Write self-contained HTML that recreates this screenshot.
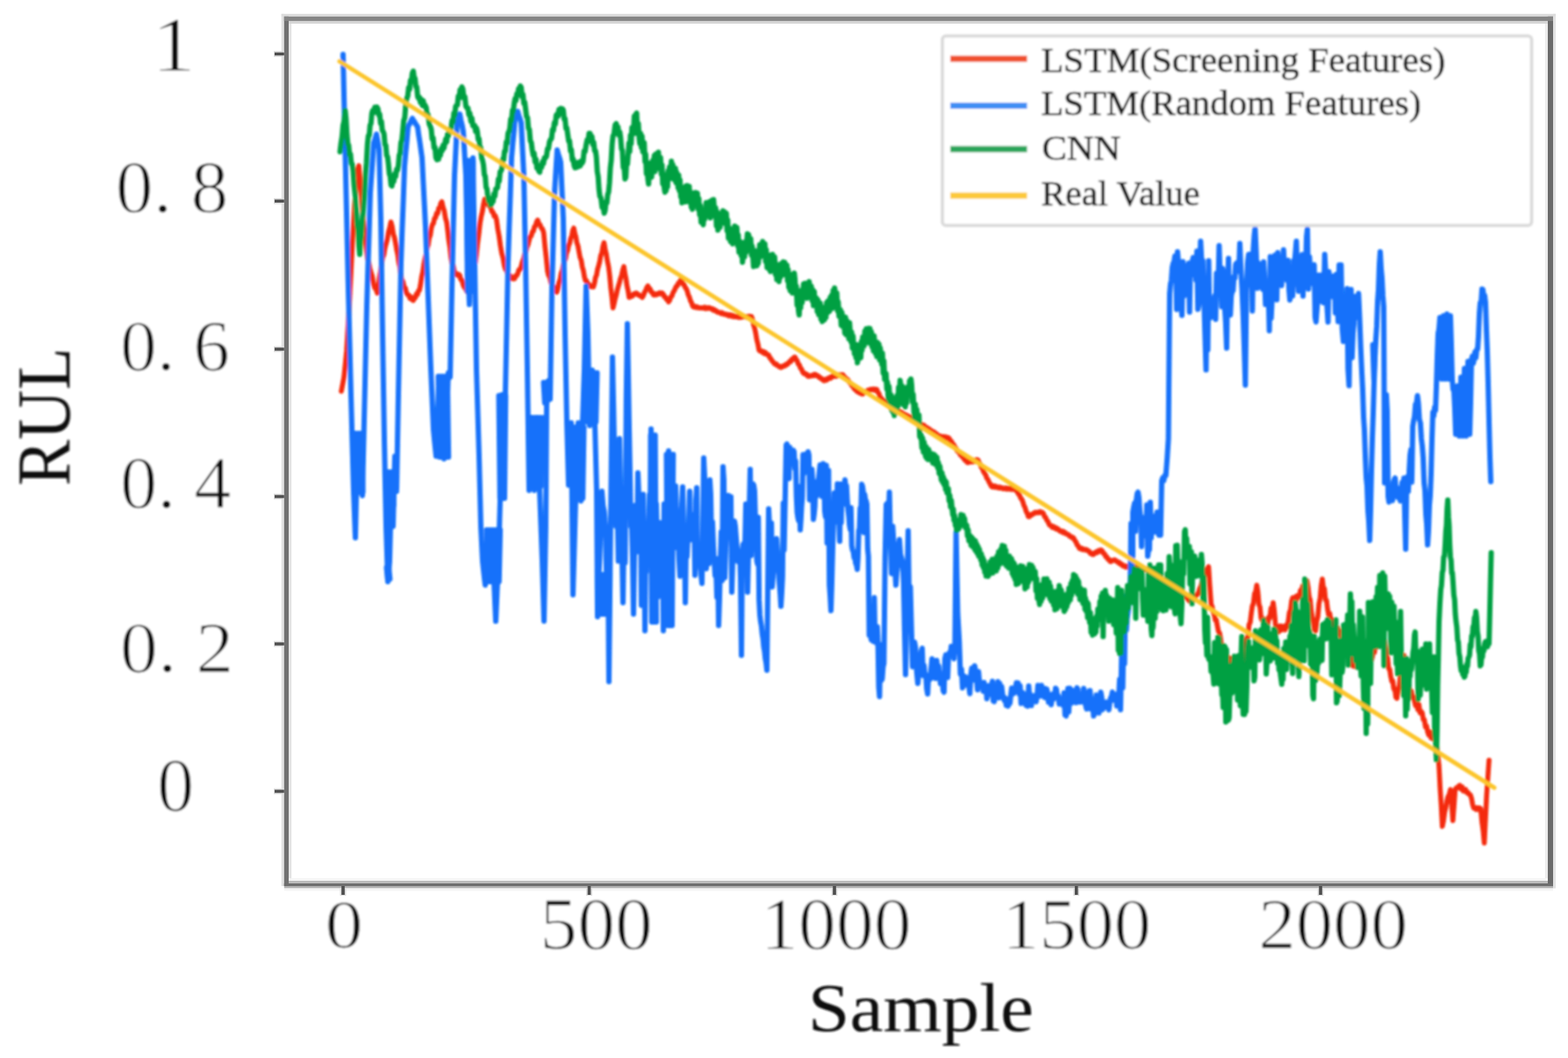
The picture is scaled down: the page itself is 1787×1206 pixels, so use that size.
<!DOCTYPE html>
<html><head><meta charset="utf-8"><title>RUL prediction chart</title>
<style>html,body{margin:0;padding:0;background:#fff;width:1787px;height:1206px;overflow:hidden}svg{display:block}</style>
</head><body>
<svg width="1787" height="1206" viewBox="0 0 1787 1206"><defs><filter id="bl" x="-5%" y="-5%" width="110%" height="110%"><feGaussianBlur stdDeviation="0.9"/></filter></defs><rect width="100%" height="100%" fill="#fff"/><g filter="url(#bl)"><g fill="none" stroke-linejoin="round" stroke-linecap="round"><path d="M389.0 446.0L390.5 437.9L392.0 430.0L393.5 415.4L395.0 400.0L396.5 374.4L398.0 350.0L399.5 321.1L401.0 290.0L402.5 261.3L404.0 235.0L405.5 215.6L407.0 195.0L409.0 189.0L411.0 212.0L413.0 240.0L414.5 254.5L416.0 270.0L417.5 283.9L419.0 295.0L420.3 299.6L421.7 306.4L423.0 311.0L424.3 315.1L425.7 323.3L427.0 328.0L428.5 329.6L430.0 334.0L431.2 326.5L432.5 315.8L433.8 309.1L435.0 300.0L436.2 293.3L437.5 290.5L438.8 282.4L440.0 278.0L441.4 273.1L442.8 264.3L444.1 259.8L445.5 253.0L446.9 257.9L448.2 266.6L449.6 270.9L451.0 278.0L452.2 285.3L453.3 290.2L454.5 299.5L455.7 304.0L456.8 313.6L458.0 319.0L459.3 321.1L460.6 327.3L462.0 328.3L463.3 334.0L464.6 336.0L465.9 336.3L467.2 340.1L468.4 338.4L469.7 341.8L471.0 342.5L472.2 340.0L473.3 339.4L474.5 335.2L475.7 335.8L476.8 331.7L478.0 331.0L479.3 324.4L480.6 315.2L481.9 309.7L483.2 300.5L484.5 294.0L485.7 289.7L486.9 282.0L488.1 279.2L489.2 271.0L490.4 268.4L491.6 260.0L492.8 256.0L494.0 254.7L495.2 249.0L496.4 248.0L497.6 243.0L498.8 243.1L500.0 237.2L501.2 236.9L502.4 231.6L503.6 230.0L505.0 236.5L506.3 240.1L507.6 248.4L509.0 253.0L510.2 262.5L511.5 274.1L512.8 282.3L514.0 294.0L515.2 300.2L516.5 302.7L517.8 309.3L519.0 312.6L520.2 312.0L521.5 313.9L522.8 312.8L524.0 314.0L525.2 318.7L526.5 319.3L527.8 324.7L529.0 327.5L530.3 328.2L531.7 331.7L533.0 333.0L534.2 328.5L535.5 327.4L536.8 321.8L538.0 320.0L539.2 314.1L540.5 304.0L541.8 299.1L543.0 290.0L544.3 277.5L545.7 267.2L547.0 255.0L548.4 246.8L549.7 241.5L551.0 233.3L552.4 227.0L553.8 229.9L555.2 229.8L556.6 233.7L558.0 235.0L559.3 237.0L560.6 241.5L561.9 241.7L563.2 246.6L564.5 246.0L565.8 250.0L567.3 260.9L568.8 269.0L570.3 280.0L571.8 288.7L573.3 294.1L574.8 303.0L576.1 307.1L577.4 307.9L578.7 313.2L580.0 315.0L581.3 314.2L582.6 317.5L583.9 316.3L585.2 318.0L586.4 317.8L587.6 314.3L588.8 314.3L590.0 312.0L591.4 307.4L592.8 307.1L594.2 303.0L595.5 297.8L596.7 295.2L598.0 289.6L599.2 287.6L600.5 281.8L601.7 279.3L603.0 274.0L604.2 269.9L605.5 268.8L606.7 264.2L607.9 263.5L609.1 258.4L610.3 257.6L611.6 252.6L612.8 251.0L614.2 255.1L615.5 256.1L616.9 259.9L618.2 261.0L619.6 265.0L621.1 281.2L622.5 293.6L624.0 309.0L625.2 314.0L626.5 315.9L627.8 321.8L629.0 325.0L630.4 326.1L631.8 329.8L633.1 330.1L634.5 333.0L635.8 329.1L637.0 322.0L638.3 318.7L639.6 311.4L640.9 308.2L642.1 301.5L643.4 297.5L644.6 294.6L645.7 288.3L646.9 285.7L648.1 279.5L649.2 277.4L650.4 271.8L651.6 269.3L652.7 262.9L653.9 260.0L655.1 266.0L656.3 270.0L657.5 277.1L658.7 280.2L659.9 287.0L661.1 293.5L662.4 296.6L663.6 304.2L664.8 308.1L666.1 315.7L667.3 320.0L668.5 320.0L669.6 324.0L670.8 323.8L672.0 326.0L673.4 326.9L674.9 325.6L676.3 327.0L677.5 322.9L678.7 316.0L679.8 314.0L681.0 307.1L682.2 303.0L683.4 298.5L684.7 291.1L685.9 288.4L687.2 280.5L688.4 276.6L689.7 284.3L691.0 289.7L692.3 297.9L693.6 304.0L694.9 314.7L696.1 328.1L697.4 338.7L698.6 351.0L699.8 346.5L701.1 340.5L702.3 336.5L703.6 330.2L704.8 326.0L706.0 322.0L707.3 316.9L708.5 313.7L709.8 307.6L711.0 304.0L712.2 311.9L713.4 317.5L714.6 325.9L715.8 331.1L717.0 339.0L718.3 338.6L719.6 336.6L720.9 337.3L722.1 335.0L723.4 335.4L724.7 334.0L725.9 334.4L727.1 336.2L728.4 336.1L729.6 337.6L730.8 337.5L732.0 339.0L733.3 336.9L734.6 333.0L735.8 331.5L737.1 327.8L738.4 326.0L739.6 328.7L740.9 329.1L742.1 332.8L743.4 333.2L744.6 336.0L745.8 336.4L747.1 335.2L748.3 336.0L749.5 334.6L750.8 335.2L752.0 333.8L753.3 334.9L754.5 334.0L755.8 335.1L757.0 338.2L758.2 338.3L759.5 341.2L760.8 341.9L762.0 344.0L763.2 342.3L764.5 338.4L765.8 337.3L767.0 333.5L768.2 331.9L769.5 329.0L770.7 326.4L772.0 325.8L773.2 322.6L774.5 321.8L775.7 319.0L777.0 320.1L778.2 323.8L779.5 324.2L780.7 327.3L782.0 329.0L783.2 331.7L784.5 336.5L785.7 338.7L786.9 342.8L788.2 345.2L789.4 349.0L790.6 349.9L791.9 349.1L793.1 350.6L794.3 349.6L795.6 350.9L796.8 351.0L798.0 350.7L799.3 351.3L800.5 350.7L801.8 351.3L803.0 350.1L804.3 351.8L805.5 350.7L806.8 351.6L808.0 350.5L809.3 351.0L810.5 352.1L811.7 351.8L812.9 353.6L814.1 352.9L815.4 354.6L816.6 354.4L817.8 355.9L819.0 356.0L820.2 356.0L821.5 357.4L822.8 356.4L824.0 358.0L825.2 357.6L826.5 358.6L827.8 358.1L829.0 359.0L830.2 359.9L831.5 358.7L832.8 360.3L834.0 359.2L835.2 360.9L836.5 360.0L837.8 361.3L839.0 361.0L840.2 360.4L841.5 361.7L842.8 360.5L844.0 361.7L845.2 360.4L846.5 361.4L847.8 360.4L849.0 361.0L850.2 361.7L851.5 360.7L852.8 361.5L854.0 360.5L855.2 361.8L856.5 361.0L857.7 364.5L858.8 370.2L860.0 374.0L861.2 379.4L862.5 387.3L863.8 392.3L865.0 399.0L866.2 400.2L867.5 399.9L868.8 401.7L870.0 400.8L871.2 403.0L872.5 402.0L873.8 404.1L875.0 404.0L876.2 404.9L877.3 408.0L878.5 408.7L879.7 411.3L880.8 412.1L882.0 414.0L883.3 415.2L884.7 414.9L886.0 416.8L887.3 417.0L888.7 418.5L890.0 419.0L891.2 417.5L892.4 418.0L893.6 416.6L894.9 416.9L896.1 415.1L897.3 415.5L898.5 414.0L899.8 412.1L901.0 412.5L902.2 409.6L903.5 410.0L904.8 407.4L906.0 407.0L907.2 409.7L908.5 411.1L909.7 414.9L911.0 416.0L912.2 419.5L913.5 420.8L914.7 424.0L915.9 425.7L917.1 425.4L918.4 427.0L919.6 426.7L920.8 429.0L922.0 429.0L923.3 428.2L924.5 428.7L925.8 427.6L927.1 428.3L928.3 426.6L929.6 427.0L930.9 428.4L932.1 428.2L933.4 430.1L934.6 430.0L935.9 431.9L937.1 431.9L938.4 433.7L939.6 434.0L940.8 432.5L942.1 433.3L943.3 431.4L944.5 431.9L945.8 430.2L947.0 431.0L948.3 428.9L949.5 429.0L950.8 429.3L952.0 427.9L953.2 428.9L954.5 427.2L955.8 428.1L957.0 427.2L958.2 428.0L959.5 427.0L960.8 427.3L962.0 429.9L963.2 430.0L964.5 432.4L965.8 432.4L967.0 434.0L968.2 436.1L969.5 436.9L970.7 439.6L971.9 440.2L973.2 442.7L974.4 444.0L975.7 444.1L976.9 446.5L978.2 446.0L979.5 448.0L980.7 447.6L982.0 449.0L983.2 449.2L984.5 447.1L985.7 447.6L986.9 446.1L988.1 446.2L989.3 444.7L990.6 445.1L991.8 444.0L993.0 443.6L994.3 444.5L995.5 443.5L996.8 444.8L998.0 443.6L999.3 444.0L1000.5 447.4L1001.6 448.4L1002.8 452.1L1004.0 454.0L1005.2 454.7L1006.5 457.3L1007.8 457.0L1009.0 459.6L1010.2 459.7L1011.5 462.2L1012.8 461.9L1014.0 464.0L1015.2 465.1L1016.5 464.5L1017.8 466.7L1019.0 465.9L1020.2 467.5L1021.5 467.3L1022.8 469.1L1024.0 469.0L1025.2 468.9L1026.5 471.1L1027.8 470.1L1029.0 471.9L1030.2 471.7L1031.5 473.2L1032.8 473.0L1034.0 474.0L1035.2 475.6L1036.5 474.9L1037.8 477.5L1039.0 477.1L1040.2 479.2L1041.5 478.8L1042.8 480.7L1044.0 481.0L1045.2 480.9L1046.5 482.6L1047.8 482.5L1049.0 484.3L1050.2 483.7L1051.5 485.2L1052.8 484.7L1054.0 486.0L1055.2 487.5L1056.4 487.3L1057.6 488.9L1058.8 488.7L1060.0 490.0L1061.2 491.5L1062.5 491.3L1063.8 493.3L1065.0 492.6L1066.2 494.9L1067.5 494.6L1068.8 496.5L1070.0 497.0L1071.2 496.9L1072.4 498.3L1073.6 497.6L1074.8 499.0L1076.0 497.7L1077.2 499.1L1078.4 498.2L1079.6 499.9L1080.8 498.9L1082.0 500.0L1083.2 502.6L1084.5 503.3L1085.8 506.3L1087.0 506.8L1088.2 510.2L1089.5 510.8L1090.8 513.9L1092.0 515.0L1093.2 515.6L1094.5 518.7L1095.8 518.9L1097.0 521.3L1098.2 521.9L1099.5 524.5L1100.8 524.8L1102.0 527.0L1103.2 527.5L1104.3 525.9L1105.5 526.7L1106.6 525.4L1107.8 526.5L1108.9 525.3L1110.1 526.2L1111.2 524.5L1112.4 525.3L1113.5 523.9L1114.7 524.5L1115.9 527.4L1117.1 529.0L1118.3 532.7L1119.6 533.9L1120.8 537.6L1122.0 539.5L1123.3 541.2L1124.5 544.9L1125.8 546.3L1127.1 549.5L1128.3 551.3L1129.6 554.0L1130.8 555.0L1132.1 553.8L1133.3 555.4L1134.6 554.3L1135.8 555.7L1137.0 555.1L1138.3 556.3L1139.5 555.2L1140.8 556.5L1142.0 555.9L1143.3 557.2L1144.5 557.0L1145.8 556.2L1147.0 557.5L1148.2 556.5L1149.5 557.5L1150.8 556.4L1152.0 557.8L1153.2 556.5L1154.5 557.8L1155.8 556.7L1157.0 557.0L1158.2 559.4L1159.5 560.7L1160.7 563.3L1161.9 564.2L1163.2 567.7L1164.4 569.0L1165.7 571.9L1166.9 576.1L1168.2 578.5L1169.5 583.1L1170.7 584.9L1172.0 589.0L1173.2 589.0L1174.5 586.9L1175.7 587.2L1176.9 585.6L1178.1 585.8L1179.4 584.1L1180.6 584.0L1181.8 584.6L1183.1 583.6L1184.3 584.4L1185.5 583.2L1186.8 584.3L1188.0 584.0L1189.2 585.4L1190.5 589.1L1191.7 589.6L1193.0 593.1L1194.2 594.1L1195.5 597.5L1196.7 599.0L1198.0 599.0L1199.2 601.1L1200.5 600.2L1201.7 602.0L1203.0 601.3L1204.2 603.3L1205.5 602.7L1206.7 604.0L1207.9 605.4L1209.2 605.0L1210.4 606.6L1211.7 605.8L1212.9 607.7L1214.1 607.2L1215.4 608.9L1216.6 609.0L1217.8 609.4L1219.1 611.3L1220.3 611.2L1221.5 612.9L1222.8 612.5L1224.0 614.0L1225.2 616.7L1226.4 617.8L1227.6 621.5L1228.8 622.0L1230.0 625.0L1231.3 625.6L1232.6 624.8L1233.9 626.5L1235.1 625.8L1236.4 626.9L1237.7 626.3L1239.0 627.0L1240.2 628.3L1241.4 628.4L1242.6 630.9L1243.8 630.5L1245.0 632.0L1246.2 632.2L1247.5 630.0L1248.8 630.5L1250.0 628.7L1251.2 629.5L1252.5 627.4L1253.8 628.3L1255.0 627.0L1256.2 627.9L1257.5 630.7L1258.8 631.1L1260.0 634.4L1261.2 634.3L1262.5 637.3L1263.8 637.6L1265.0 640.0L1266.2 640.1L1267.5 638.7L1268.8 638.8L1270.0 638.0L1271.2 638.5L1272.4 640.0L1273.6 640.0L1274.8 641.8L1276.0 641.3L1277.2 643.4L1278.4 643.1L1279.6 645.1L1280.8 644.7L1282.0 646.0L1283.2 646.6L1284.4 645.3L1285.6 646.5L1286.8 645.6L1288.0 646.8L1289.2 645.3L1290.4 646.5L1291.6 645.5L1292.8 646.6L1294.0 646.0L1295.2 645.7L1296.5 647.0L1297.7 646.7L1298.9 647.6L1300.2 646.8L1301.4 648.2L1302.6 647.6L1303.8 648.9L1305.1 648.4L1306.3 649.5L1307.5 648.9L1308.8 650.1L1310.0 650.0L1311.2 650.9L1312.4 652.7L1313.6 653.2L1314.8 655.4L1316.0 655.7L1317.2 657.5L1318.4 657.8L1319.6 660.1L1320.8 660.1L1322.0 662.0L1323.2 663.0L1324.3 662.8L1325.5 664.5L1326.7 664.4L1327.8 666.2L1329.0 665.6L1330.2 667.0L1331.3 666.8L1332.5 668.4L1333.7 668.0L1334.8 669.8L1336.0 670.0L1337.2 670.3L1338.3 671.6L1339.5 671.3L1340.7 673.1L1341.8 672.6L1343.0 674.6L1344.2 673.8L1345.3 675.8L1346.5 675.6L1347.7 677.1L1348.8 676.6L1350.0 678.0L1351.4 680.4L1352.8 681.0L1354.1 683.6L1355.5 685.0L1356.7 683.4L1357.9 684.0L1359.1 681.5L1360.2 681.5L1361.4 680.0L1362.6 679.7L1363.8 678.1L1365.0 677.5L1366.2 674.5L1367.4 670.6L1368.7 668.3L1369.9 663.6L1371.1 661.5L1372.3 656.9L1373.6 655.1L1374.8 650.5L1376.0 648.0L1377.4 646.0L1378.8 668.3L1380.3 689.0L1381.5 691.7L1382.6 697.6L1383.8 699.9L1385.0 706.8L1386.1 706.3L1387.3 713.0L1388.6 719.6L1390.0 721.7L1391.3 729.0L1392.5 738.8L1393.7 740.0L1394.8 750.0L1396.0 754.0L1397.3 751.5L1398.6 756.3L1399.8 749.0L1401.1 754.1L1402.4 752.0L1403.6 750.7L1404.9 759.3L1406.1 754.5L1407.4 762.7L1408.6 762.0L1409.8 757.1L1411.1 761.9L1412.3 756.2L1413.6 759.3L1414.8 752.9L1416.1 757.7L1417.3 754.0L1418.5 744.3L1419.8 740.1L1421.0 727.4L1422.3 725.8L1423.5 711.9L1424.8 709.6L1426.0 699.5L1427.3 690.4L1428.5 688.1L1429.8 676.8L1431.0 674.8L1432.3 667.0L1433.5 673.9L1434.8 689.1L1436.0 692.0L1437.2 704.5L1438.5 707.2L1439.7 705.1L1441.0 711.8L1442.2 706.5L1443.5 714.4L1444.7 712.0L1446.0 703.4L1447.2 704.5L1448.5 693.3L1449.7 695.3L1451.0 687.0L1452.2 695.5L1453.5 710.6L1454.7 719.0L1455.9 717.1L1457.2 720.3L1458.4 713.6L1459.6 718.5L1460.8 713.7L1462.1 717.5L1463.3 714.1L1464.5 718.0L1465.8 712.6L1467.0 714.0L1468.2 708.1L1469.5 697.9L1470.8 695.3L1472.0 685.0L1473.2 681.3L1474.5 684.6L1475.8 680.7L1477.0 685.6L1478.2 679.0L1479.5 680.0L1480.8 680.5L1482.0 673.1L1483.2 676.6L1484.5 668.1L1485.8 672.2L1487.0 663.8L1488.2 666.0L1489.5 662.0L1490.7 668.8L1492.0 680.4L1493.2 684.0L1494.5 697.5L1495.7 704.5L1496.9 708.1L1498.2 718.1L1499.4 719.0L1500.7 707.4L1501.9 703.0L1503.2 688.1L1504.5 682.2L1505.7 668.0L1507.0 660.0L1508.2 670.4L1509.4 670.9L1510.6 683.7L1511.8 684.3L1513.0 694.5L1514.3 701.6L1515.5 699.3L1516.8 707.9L1518.0 706.1L1519.3 712.0L1520.5 715.2L1521.8 711.9L1523.0 720.0L1524.3 715.4L1525.5 722.3L1526.8 719.6L1528.0 724.0L1529.3 729.5L1530.5 726.8L1531.8 734.4L1533.0 733.8L1534.3 739.0L1535.5 744.9L1536.8 744.3L1538.0 751.7L1539.2 749.1L1540.5 758.1L1541.7 759.0L1542.9 755.0L1544.2 759.9L1545.4 754.2L1546.6 757.2L1547.8 750.0L1549.1 755.1L1550.3 749.6L1551.5 752.4L1552.8 748.2L1554.0 749.0L1555.2 750.7L1556.5 745.2L1557.8 752.2L1559.0 745.4L1560.2 753.0L1561.5 746.1L1562.8 752.8L1564.0 749.0L1565.2 742.5L1566.4 743.8L1567.6 733.7L1568.8 737.5L1570.0 730.0L1571.3 722.5L1572.7 725.2L1574.0 719.0L1575.2 720.6L1576.5 731.3L1577.8 730.0L1579.0 739.0L1580.2 749.2L1581.4 749.8L1582.6 762.0L1583.8 762.9L1585.0 771.0L1586.2 776.6L1587.3 776.1L1588.5 785.5L1589.7 785.0L1590.8 794.8L1592.0 796.0L1593.3 786.5L1594.7 783.0L1596.0 769.5L1597.3 765.7L1598.7 753.0L1600.0 747.0L1601.2 757.7L1602.4 758.5L1603.6 771.2L1604.8 775.1L1606.0 784.0L1607.2 789.0L1608.4 787.6L1609.6 794.4L1610.8 794.4L1612.0 799.0L1613.3 804.3L1614.6 799.8L1615.8 808.9L1617.1 803.1L1618.4 812.7L1619.7 811.0L1620.9 812.6L1622.1 820.3L1623.3 820.4L1624.6 828.8L1625.8 827.5L1627.0 834.0L1628.3 837.9L1629.5 834.1L1630.8 841.1L1632.1 836.7L1633.3 842.3L1634.6 841.0L1636.3 844.3L1638.0 855.0L1640.0 873.0L1641.3 899.0L1642.5 917.5L1643.8 942.0L1645.1 935.7L1646.4 925.8L1647.7 920.9L1649.0 913.0L1650.3 907.9L1651.7 905.7L1653.0 900.0L1654.4 916.4L1655.8 935.5L1657.1 918.6L1658.4 900.0L1659.7 898.0L1661.1 898.2L1662.4 896.0L1663.7 895.3L1665.0 899.3L1666.4 897.0L1667.7 901.7L1669.0 901.0L1670.3 900.0L1671.7 903.6L1673.0 903.1L1674.4 905.6L1675.7 906.0L1677.0 909.8L1678.3 917.1L1679.6 921.0L1680.9 920.5L1682.3 922.7L1683.6 920.8L1684.9 922.7L1686.3 920.9L1687.6 922.0L1688.9 936.7L1690.3 946.8L1691.6 961.0L1692.9 934.5L1694.3 906.0L1695.7 885.6L1697.0 866.5" stroke="#f42a08" stroke-width="5.6"/><path d="M391.0 62.0L392.5 130.6L394.0 200.0L395.5 265.5L397.0 330.0L398.5 389.5L400.0 450.0L401.5 505.3L403.0 560.0L405.0 613.0L407.0 520.0L409.0 495.0L411.0 560.0L413.0 565.0L415.0 480.0L416.5 414.6L418.0 350.0L419.3 306.9L420.7 263.1L422.0 220.0L423.3 201.4L424.7 181.8L426.0 163.0L427.5 158.5L429.0 153.0L430.5 161.3L432.0 170.0L434.0 250.0L436.0 380.0L438.0 500.0L440.0 600.0L442.0 663.0L444.0 640.0L446.0 560.0L448.0 600.0L450.0 520.0L452.0 560.0L454.0 450.0L455.5 375.2L457.0 300.0L458.3 263.1L459.7 227.1L461.0 190.0L462.3 174.8L463.7 160.5L465.0 145.0L466.2 142.0L467.5 140.4L468.8 137.0L470.0 135.0L471.2 137.5L472.4 138.7L473.6 141.2L474.8 142.8L476.0 145.0L477.2 154.1L478.5 162.1L479.8 171.5L481.0 180.0L482.3 206.3L483.7 233.7L485.0 260.0L486.5 299.8L488.0 340.0L489.5 380.2L491.0 420.0L492.5 454.6L494.0 490.0L495.5 505.4L497.0 520.0L498.5 479.6L500.0 440.0L501.5 435.2L503.0 430.0L504.5 476.0L506.0 523.0L507.5 496.9L509.0 470.0L511.0 425.0L513.0 430.0L515.0 330.0L516.5 264.5L518.0 200.0L519.5 170.3L521.0 140.0L522.5 134.6L524.0 130.0L525.3 137.1L526.7 142.9L528.0 150.0L529.5 175.5L531.0 200.0L533.0 300.0L535.0 347.0L537.0 250.0L539.0 180.0L541.0 300.0L543.0 420.0L544.5 469.7L546.0 520.0L548.0 600.0L550.0 640.0L551.5 654.0L553.0 667.0L554.5 638.0L556.0 610.0L557.5 635.3L559.0 660.0L560.5 649.8L562.0 640.0L563.5 674.2L565.0 708.0L566.5 673.5L568.0 640.0L570.0 571.0L572.0 450.0L574.0 520.0L576.0 446.0L577.5 373.2L579.0 300.0L580.3 259.7L581.7 220.2L583.0 180.0L584.3 164.6L585.7 150.3L587.0 135.0L588.5 130.5L590.0 127.0L591.3 131.7L592.7 135.5L594.0 140.0L595.5 170.5L597.0 200.0L599.0 300.0L601.0 420.0L603.0 559.0L604.5 517.1L606.0 476.0L607.5 517.8L609.0 559.0L610.5 517.1L612.0 476.0L613.5 517.8L615.0 559.0L616.5 599.1L618.0 640.0L620.0 708.0L622.0 600.0L623.0 460.0L625.0 434.0L627.0 455.0L629.0 330.0L630.5 275.3L632.0 220.0L633.5 195.1L635.0 171.0L636.3 175.9L637.7 180.1L639.0 185.0L640.5 218.0L642.0 250.0L644.0 380.0L646.0 480.0L648.0 553.0L649.5 517.1L651.0 482.0L653.0 678.0L654.5 624.8L656.0 571.0L657.5 526.3L659.0 482.0L660.5 527.0L662.0 571.0L664.0 480.0L666.0 420.0L668.0 326.0L670.0 380.0L672.0 485.0L673.5 451.1L675.0 422.0L676.5 456.2L678.0 485.0L680.0 560.0L681.0 703.0L682.2 663.9L683.5 634.7L684.8 593.2L686.0 560.0L687.3 576.5L688.7 582.8L690.0 600.0L691.3 661.8L692.7 609.3L694.0 777.0L695.3 650.6L696.7 533.8L698.0 407.0L699.3 467.9L700.7 538.7L702.0 600.0L703.3 563.1L704.7 639.6L706.0 500.0L707.3 565.5L708.7 620.8L710.0 687.0L711.2 611.2L712.5 641.4L713.8 451.0L715.0 369.0L716.0 423.5L717.0 486.2L718.0 539.4L719.0 600.0L720.0 602.1L721.0 637.5L722.0 700.0L723.0 632.2L724.0 576.0L725.0 625.2L726.0 628.9L727.0 539.0L728.0 564.2L729.0 582.8L730.0 573.4L731.0 690.0L732.0 578.3L733.0 563.6L734.0 598.4L735.0 719.0L735.9 619.6L736.8 651.3L737.6 601.0L738.5 601.5L739.4 644.1L740.2 563.7L741.1 569.6L742.0 489.0L743.0 594.4L744.0 657.3L745.0 574.6L746.0 600.0L747.0 617.0L748.0 574.5L749.0 617.4L750.0 680.0L751.0 657.2L752.0 595.8L753.0 600.0L754.0 638.5L755.0 617.8L756.0 719.0L756.9 574.4L757.7 651.2L758.6 604.2L759.4 589.9L760.3 574.8L761.1 539.5L762.0 514.0L763.0 586.7L764.0 549.6L765.0 592.8L766.0 580.0L767.0 570.9L768.0 609.1L769.0 624.1L770.0 554.0L771.0 590.2L772.0 600.5L773.0 615.0L774.0 640.0L775.0 656.7L776.0 595.6L777.0 576.0L778.0 555.0L779.0 601.0L780.0 609.2L781.0 687.0L782.0 622.7L783.0 634.7L784.0 612.8L785.0 595.0L786.0 560.0L787.0 615.2L788.0 597.6L789.0 587.1L790.0 600.0L791.0 586.4L792.0 655.8L793.0 569.7L794.0 556.0L795.0 641.5L796.0 620.3L797.0 640.0L798.0 645.4L799.0 655.7L800.0 665.0L801.0 601.2L802.0 522.0L803.0 543.3L804.0 647.4L805.0 648.2L806.0 600.0L807.0 605.7L808.0 642.5L809.0 547.0L810.0 564.0L811.0 618.2L812.0 595.1L813.0 622.1L814.0 640.0L815.0 656.0L816.0 647.2L817.0 680.7L818.0 637.0L819.0 713.0L820.0 680.8L821.0 639.3L822.0 606.2L823.0 661.8L824.0 532.0L825.0 547.4L826.0 658.4L827.0 625.5L828.0 600.0L829.0 577.3L830.0 564.7L831.0 584.0L832.0 600.8L833.0 566.2L834.0 675.0L835.0 640.1L836.0 639.1L837.0 594.0L838.0 600.0L839.0 613.0L840.0 624.4L841.0 640.0L842.0 635.7L843.0 628.6L844.0 658.9L845.0 747.0L846.0 627.6L847.0 620.1L848.0 641.8L849.0 621.0L850.0 574.6L851.0 600.6L852.0 675.0L853.0 630.0L854.0 578.6L855.0 535.0L856.0 633.3L857.0 573.7L858.0 551.6L859.0 553.0L860.0 560.0L861.2 601.9L862.5 639.0L863.4 643.2L864.2 589.8L865.1 683.9L866.0 701.0L866.9 708.8L867.8 713.5L868.7 722.8L869.6 727.9L870.4 737.1L871.3 741.9L872.2 750.8L873.1 755.5L874.0 764.0L875.0 673.2L876.0 580.0L876.8 596.5L877.6 617.0L878.4 632.2L879.2 596.2L880.0 669.0L880.8 660.5L881.7 649.4L882.5 642.1L883.3 630.5L884.2 624.4L885.0 614.0L885.8 626.1L886.7 640.5L887.5 651.4L888.3 666.1L889.2 677.2L890.0 691.0L890.9 676.0L891.8 657.7L892.7 573.6L893.6 627.0L894.8 568.9L896.0 507.0L896.8 506.2L897.6 510.4L898.5 544.9L899.3 545.4L900.1 509.8L900.9 513.8L901.7 516.6L902.5 514.8L903.4 528.6L904.2 513.3L905.0 515.0L905.9 533.9L906.8 525.6L907.6 564.8L908.5 584.0L909.4 590.2L910.2 593.4L911.1 554.7L912.0 604.0L912.8 591.9L913.6 576.4L914.4 566.7L915.2 518.2L916.0 540.0L916.8 534.5L917.7 532.3L918.5 517.6L919.3 518.2L920.2 537.5L921.0 515.0L921.9 518.8L922.7 569.8L923.6 544.8L924.4 557.7L925.3 534.9L926.1 547.9L927.0 592.0L927.8 586.5L928.7 577.3L929.5 549.4L930.4 565.8L931.2 555.0L932.1 548.8L932.9 546.2L933.8 537.8L934.6 530.0L935.5 539.9L936.4 565.7L937.3 554.2L938.1 528.6L939.0 529.2L939.9 582.0L940.8 589.0L941.7 530.6L942.6 618.9L943.5 545.8L944.3 536.2L945.2 666.5L946.1 679.3L947.0 696.0L948.0 664.0L948.9 627.6L949.8 597.2L950.8 562.0L951.7 567.9L952.6 579.3L953.5 594.7L954.3 551.5L955.2 555.3L956.1 590.5L957.0 617.0L957.9 551.7L958.7 595.6L959.6 553.0L960.4 575.3L961.3 568.9L962.1 556.1L963.0 547.0L963.9 556.4L964.7 553.3L965.6 570.2L966.4 581.1L967.3 587.8L968.1 598.2L969.0 603.6L969.8 578.7L970.7 622.0L971.6 627.1L972.5 628.5L973.4 635.5L974.3 635.5L975.2 642.0L976.1 644.0L977.0 649.0L977.8 636.1L978.7 605.1L979.5 602.3L980.3 579.2L981.2 582.8L982.0 552.0L982.9 554.2L983.7 559.5L984.6 607.0L985.4 563.4L986.3 569.9L987.1 570.9L988.0 575.0L988.9 626.0L989.7 634.3L990.6 724.0L991.5 703.8L992.3 726.1L993.1 729.6L994.0 730.0L994.8 728.0L995.6 731.3L996.4 681.3L997.2 727.8L998.0 729.0L998.9 733.0L999.8 714.6L1000.6 731.9L1001.5 782.9L1002.4 794.0L1003.4 734.8L1004.4 775.7L1005.4 774.0L1006.4 760.2L1007.4 756.0L1008.7 635.8L1010.0 575.0L1011.2 573.7L1012.4 594.5L1013.6 561.0L1014.9 619.4L1016.1 653.7L1017.4 600.0L1018.6 619.8L1019.8 647.1L1021.0 667.0L1022.0 652.2L1023.0 644.8L1024.0 623.4L1025.0 615.0L1026.2 631.7L1027.4 635.9L1028.6 640.5L1029.8 664.0L1030.9 718.8L1032.0 769.0L1033.0 710.9L1034.0 652.2L1035.0 605.0L1036.2 692.2L1037.5 669.0L1038.8 719.1L1040.0 760.0L1041.2 742.4L1042.3 732.0L1043.5 738.8L1044.8 766.8L1046.0 779.0L1047.0 768.2L1048.0 765.2L1049.0 751.2L1050.0 742.4L1051.0 739.0L1052.0 769.9L1053.1 758.6L1054.1 768.4L1055.1 769.1L1056.2 785.3L1057.2 791.0L1058.2 769.8L1059.2 772.4L1060.2 774.1L1061.2 761.2L1062.2 751.0L1063.3 753.3L1064.3 772.4L1065.4 755.4L1066.5 773.3L1067.6 752.7L1068.6 765.9L1069.7 759.0L1070.7 768.9L1071.8 779.3L1072.8 769.3L1073.8 772.3L1074.9 787.2L1075.9 789.0L1076.9 751.0L1077.9 746.5L1079.0 767.0L1080.0 772.3L1081.0 747.1L1082.0 744.0L1083.0 746.8L1084.1 736.8L1085.2 745.4L1086.2 745.6L1087.2 750.9L1088.3 737.0L1089.6 607.0L1091.5 700.0L1093.3 732.0L1094.5 768.1L1095.8 762.6L1097.0 784.0L1098.2 770.2L1099.5 781.0L1100.8 771.6L1102.0 776.0L1103.1 779.2L1104.2 782.1L1105.3 790.7L1106.4 769.3L1107.5 761.4L1108.6 767.6L1109.7 774.9L1110.8 759.0L1111.9 766.2L1113.0 774.6L1114.1 786.3L1115.2 765.5L1116.2 777.3L1117.3 777.3L1118.4 780.5L1119.5 779.0L1120.5 788.0L1121.6 777.9L1122.6 783.8L1123.7 782.3L1124.7 796.5L1125.8 782.0L1126.8 792.2L1127.8 789.6L1128.9 780.8L1129.9 784.5L1131.0 776.4L1132.0 799.0L1133.1 799.7L1134.1 787.2L1135.2 782.5L1136.2 791.5L1137.3 777.1L1138.3 795.4L1139.4 779.0L1140.5 791.0L1141.5 782.4L1142.6 791.3L1143.6 795.8L1144.7 798.5L1145.7 795.7L1146.8 804.0L1147.8 802.0L1148.9 804.8L1149.9 796.7L1151.0 801.7L1152.0 792.2L1153.0 784.2L1154.1 784.7L1155.1 790.6L1156.2 789.2L1157.2 787.4L1158.3 778.3L1159.3 781.0L1160.4 778.5L1161.5 791.0L1162.6 781.7L1163.7 801.8L1164.8 792.2L1165.9 789.5L1167.0 797.9L1168.1 798.6L1169.2 804.0L1170.3 792.3L1171.3 805.1L1172.4 782.1L1173.4 795.5L1174.5 791.7L1175.5 804.3L1176.6 794.3L1177.7 793.8L1178.7 793.1L1179.8 798.1L1180.8 799.9L1181.9 793.2L1182.9 781.2L1184.0 784.0L1185.0 793.4L1186.0 790.5L1187.0 781.3L1188.0 792.4L1189.0 792.7L1190.0 794.7L1191.0 784.8L1192.0 795.4L1193.0 785.6L1194.0 790.2L1195.0 800.6L1196.0 791.7L1197.0 796.9L1198.0 803.3L1199.0 796.0L1200.0 791.1L1201.0 796.8L1202.0 793.9L1203.0 784.5L1204.0 786.0L1205.0 794.0L1206.1 793.2L1207.2 802.6L1208.2 801.4L1209.3 797.0L1210.4 798.8L1211.5 804.0L1212.7 789.7L1213.8 815.0L1215.0 816.0L1216.0 811.2L1217.1 784.7L1218.1 811.5L1219.1 784.6L1220.2 799.4L1221.2 801.6L1222.2 786.7L1223.3 791.0L1224.3 794.3L1225.3 787.4L1226.4 800.9L1227.4 784.0L1228.5 785.9L1229.6 800.2L1230.7 794.7L1231.8 800.2L1232.9 793.2L1234.0 799.7L1235.1 784.8L1236.2 798.5L1237.3 804.0L1238.3 808.1L1239.3 790.3L1240.3 807.8L1241.3 787.4L1242.3 787.3L1243.3 800.2L1244.3 808.9L1245.3 797.2L1246.3 816.1L1247.3 814.0L1248.3 807.2L1249.4 792.2L1250.4 798.5L1251.4 807.2L1252.5 812.8L1253.5 804.6L1254.5 788.9L1255.6 794.7L1256.6 808.9L1257.6 801.9L1258.7 806.7L1259.7 804.0L1260.7 800.3L1261.7 801.3L1262.7 804.5L1263.7 809.1L1264.7 801.5L1265.7 795.6L1266.7 794.7L1267.7 788.9L1268.7 797.9L1269.7 794.0L1270.7 794.4L1271.8 791.7L1272.8 804.7L1273.9 799.3L1274.9 797.2L1276.0 774.4L1277.0 809.0L1278.3 748.1L1279.6 784.0L1280.6 724.2L1281.6 756.5L1282.6 679.5L1283.6 718.4L1284.6 704.0L1285.7 697.0L1286.9 684.9L1288.0 679.0L1289.0 596.8L1290.0 649.9L1291.0 631.0L1291.0 584.0L1292.0 578.3L1293.0 573.5L1294.0 605.6L1295.0 570.3L1296.0 562.8L1297.0 561.0L1298.0 567.2L1299.0 582.2L1300.0 590.0L1301.0 622.9L1302.0 590.0L1303.0 611.3L1304.0 593.4L1305.0 595.0L1306.0 610.2L1307.0 575.5L1308.0 634.0L1309.0 626.3L1310.0 626.7L1311.0 572.6L1312.0 613.0L1313.2 590.4L1314.3 603.2L1315.5 606.4L1316.7 588.0L1317.7 598.4L1318.7 583.7L1319.7 607.2L1320.7 609.9L1321.7 598.5L1322.7 610.0L1324.0 548.0L1325.2 544.6L1326.3 547.8L1327.5 541.9L1328.7 542.0L1330.2 522.2L1331.6 500.0L1333.0 335.0L1334.0 323.8L1335.0 319.3L1336.0 304.8L1337.0 300.0L1338.0 299.0L1339.0 291.8L1340.0 296.8L1341.0 352.8L1342.0 287.0L1343.0 298.3L1344.0 319.9L1345.0 326.1L1346.0 347.5L1347.0 359.5L1348.1 298.3L1349.2 337.5L1350.3 336.0L1351.3 330.7L1352.4 311.7L1353.5 303.1L1354.6 300.0L1355.7 355.7L1356.7 302.6L1357.8 313.5L1358.8 297.8L1359.9 293.6L1360.9 301.3L1362.0 297.0L1363.0 319.1L1364.1 286.3L1365.2 352.6L1366.2 347.5L1367.2 315.8L1368.3 275.0L1369.5 298.1L1370.8 297.0L1372.0 337.0L1373.2 377.1L1374.5 421.6L1375.5 329.7L1376.5 398.6L1377.5 297.2L1378.5 362.9L1379.5 354.5L1380.7 361.5L1382.0 351.7L1383.2 345.8L1384.4 337.0L1385.4 363.9L1386.4 311.6L1387.4 320.6L1388.4 322.7L1389.4 280.0L1390.4 310.7L1391.4 326.6L1392.4 349.5L1393.4 306.1L1394.4 314.7L1395.6 347.6L1396.8 366.7L1398.0 396.8L1399.0 326.6L1400.1 294.5L1401.2 349.7L1402.2 359.0L1403.2 337.8L1404.3 332.0L1405.3 331.2L1406.3 315.6L1407.3 317.2L1408.3 301.4L1409.3 299.8L1410.5 305.0L1411.8 309.1L1413.0 277.4L1414.3 309.8L1415.5 328.5L1416.8 359.5L1418.0 395.9L1419.3 439.0L1420.5 332.2L1421.8 299.8L1423.0 290.1L1424.2 324.6L1425.2 318.6L1426.3 289.6L1427.3 354.4L1428.3 284.7L1429.4 268.6L1430.4 260.0L1431.7 289.0L1432.9 328.6L1434.2 299.8L1435.4 311.1L1436.6 311.0L1437.8 326.5L1439.0 329.6L1440.1 298.6L1441.2 315.8L1442.3 347.1L1443.3 339.5L1444.4 321.3L1445.5 329.1L1446.6 376.9L1447.7 292.5L1448.7 362.6L1449.8 339.9L1450.8 338.3L1451.9 334.8L1452.9 291.0L1454.0 314.7L1455.1 341.7L1456.2 288.0L1457.3 313.8L1458.4 294.3L1459.5 312.1L1460.6 325.4L1461.7 302.3L1462.8 284.8L1463.8 302.8L1464.9 298.1L1465.9 305.3L1466.9 319.7L1467.9 296.8L1469.0 330.1L1470.0 342.0L1471.1 336.5L1472.1 325.7L1473.2 337.1L1474.2 297.3L1475.3 299.5L1476.3 288.5L1477.4 275.0L1478.7 314.3L1480.0 332.0L1481.0 320.7L1482.0 323.5L1483.0 307.6L1484.0 290.3L1485.0 337.4L1486.0 304.8L1487.0 319.0L1488.0 309.8L1489.0 270.1L1490.0 261.0L1491.2 329.4L1492.4 292.9L1493.6 312.0L1494.6 321.0L1495.7 322.9L1496.7 309.9L1497.7 301.8L1498.8 361.8L1499.8 367.0L1500.9 353.1L1502.0 337.3L1503.1 313.6L1504.2 324.7L1505.3 343.4L1506.4 337.7L1507.5 312.9L1508.6 345.1L1509.7 290.0L1511.0 313.3L1512.2 346.2L1513.5 367.0L1514.5 309.8L1515.6 320.3L1516.6 337.4L1517.6 337.5L1518.7 338.1L1519.7 314.7L1520.8 315.4L1521.9 356.7L1523.0 312.8L1524.1 340.8L1525.1 366.6L1526.2 302.1L1527.3 346.3L1528.4 302.0L1529.7 374.4L1531.0 389.3L1532.0 344.6L1533.0 349.1L1534.0 367.0L1535.2 329.0L1536.3 420.5L1537.5 439.6L1538.6 356.4L1539.8 330.1L1540.9 407.6L1542.0 380.0L1543.0 369.6L1544.1 338.0L1545.2 362.2L1546.2 344.4L1547.2 345.0L1548.3 334.6L1549.5 361.5L1550.8 396.7L1552.0 424.0L1553.0 444.1L1554.0 475.1L1555.0 490.6L1556.0 520.0L1557.0 544.1L1558.0 554.3L1559.0 581.8L1560.0 594.8L1561.0 616.0L1562.0 581.1L1563.0 536.5L1564.0 500.0L1565.0 470.8L1566.0 435.0L1567.0 407.2L1568.0 387.0L1569.0 371.9L1570.0 343.8L1571.0 330.1L1572.0 301.6L1573.0 287.0L1574.0 305.8L1575.0 316.7L1576.0 337.0L1577.0 350.0L1578.0 550.6L1579.0 547.2L1580.0 450.0L1581.0 469.5L1582.0 565.6L1583.0 572.2L1584.0 560.7L1585.0 569.0L1586.0 569.1L1587.0 570.5L1588.0 549.9L1589.0 546.5L1590.0 545.0L1591.0 559.1L1592.0 566.0L1593.0 556.6L1594.0 567.7L1595.0 559.6L1596.0 571.0L1597.0 559.9L1598.0 549.8L1599.0 561.0L1600.0 545.0L1601.0 587.9L1602.0 626.0L1603.0 559.6L1604.0 543.6L1605.0 560.0L1606.0 537.6L1607.0 519.0L1608.0 512.3L1609.0 549.4L1610.0 486.3L1611.0 480.0L1612.1 474.9L1613.2 460.8L1614.3 460.1L1615.4 451.0L1616.5 459.6L1617.6 477.9L1618.8 482.0L1619.9 499.8L1621.0 509.0L1622.0 522.8L1623.0 550.4L1624.0 559.2L1625.0 585.7L1626.0 597.8L1627.0 621.0L1628.0 605.4L1629.0 576.1L1630.0 564.9L1631.0 540.0L1632.0 500.2L1633.0 470.0L1634.0 474.1L1635.0 464.3L1636.0 468.0L1637.0 440.7L1638.0 406.6L1639.0 380.0L1640.0 375.0L1641.0 362.0L1642.0 392.0L1643.0 432.0L1644.0 401.7L1645.0 360.0L1646.0 391.8L1647.0 432.0L1648.0 398.2L1649.0 358.0L1650.0 389.2L1651.0 432.0L1652.0 401.1L1653.0 360.0L1654.0 391.9L1655.0 432.0L1656.0 443.9L1657.0 445.0L1658.0 466.2L1659.0 495.0L1660.0 472.2L1661.0 440.0L1662.0 463.3L1663.0 497.0L1664.0 465.6L1665.0 430.0L1666.0 457.9L1667.0 497.0L1668.0 463.5L1669.0 420.0L1670.0 453.5L1671.0 497.0L1672.0 459.1L1673.0 412.0L1674.0 448.1L1675.0 495.0L1676.0 458.4L1677.0 410.0L1678.0 406.1L1679.0 414.2L1680.0 410.0L1681.0 401.2L1682.0 407.9L1683.0 398.4L1684.0 398.0L1685.0 383.3L1686.0 357.5L1687.0 345.0L1688.0 344.6L1689.0 329.4L1690.0 330.0L1691.0 338.2L1692.0 336.7L1693.0 345.0L1694.0 374.8L1695.0 400.0L1696.0 436.9L1697.0 480.0L1698.0 520.3L1699.0 549.0" stroke="#1271fa" stroke-width="6.0"/><path d="M404.5 494.0L405.8 561.0L407.1 494.0L408.4 561.0L409.7 494.0L411.0 561.0L412.3 494.0L413.6 561.0M531.5 183.0L532.8 332.0L534.1 183.0L535.4 332.0L536.7 183.0L538.0 332.0L539.3 183.0M439.5 538.0L440.8 576.0L442.1 538.0L443.4 576.0L444.7 538.0L446.0 576.0L447.3 538.0L448.6 576.0M440.5 647.0L441.8 660.0L443.1 647.0L444.4 660.0M499.5 429.0L500.8 521.0L502.1 429.0L503.4 521.0L504.7 429.0L506.0 521.0L507.3 429.0L508.6 521.0L509.9 429.0L511.2 521.0M554.5 604.0L555.8 663.0L557.1 604.0L558.4 663.0L559.7 604.0L561.0 663.0L562.3 604.0L563.6 663.0L564.9 604.0L566.2 663.0L567.5 604.0L568.8 663.0L570.1 604.0M568.5 451.0L569.8 568.0L571.1 451.0L572.4 568.0L573.7 451.0L575.0 568.0L576.3 451.0M605.0 476.0L606.3 554.0L607.6 476.0L608.9 554.0L610.2 476.0L611.5 554.0L612.8 476.0L614.1 554.0L615.4 476.0L616.7 554.0L618.0 476.0M619.5 436.0L620.8 459.0L622.1 436.0L623.4 459.0L624.7 436.0M652.5 487.0L653.8 568.0L655.1 487.0L656.4 568.0L657.7 487.0L659.0 568.0L660.3 487.0L661.6 568.0L662.9 487.0L664.2 568.0L665.5 487.0M667.5 425.0L668.8 481.0L670.1 425.0L671.4 481.0L672.7 425.0L674.0 481.0L675.3 425.0L676.6 481.0L677.9 425.0L679.2 481.0L680.5 425.0M681.5 655.0L682.8 700.0L684.1 655.0L685.4 700.0L686.7 655.0L688.0 700.0L689.3 655.0L690.6 700.0L691.9 655.0L693.2 700.0L694.5 655.0M741.5 496.0L742.8 709.0L744.1 496.0L745.4 709.0L746.7 496.0L748.0 709.0M759.5 518.0L760.8 713.0L762.1 518.0L763.4 713.0L764.7 518.0L766.0 713.0L767.3 518.0M1564.5 393.0L1565.8 433.0L1567.1 393.0" stroke="#1271fa" stroke-width="6.0"/><path d="M387.5 173.0L388.7 162.9L389.9 155.4L391.0 142.8L392.2 138.1L393.4 126.0L394.4 136.1L395.4 153.4L396.4 164.0L397.4 165.8L398.4 176.3L399.4 175.6L400.4 186.5L401.4 187.0L402.4 194.0L403.6 211.7L404.8 222.6L406.0 240.0L407.0 255.7L408.0 262.2L409.0 280.0L410.0 290.0L411.0 275.5L412.0 267.2L413.0 249.9L414.0 240.0L415.2 223.8L416.4 199.6L417.6 186.0L418.8 164.0L419.8 154.8L420.8 154.6L421.8 142.6L422.8 140.8L423.8 129.2L424.8 126.0L426.0 128.3L427.2 122.2L428.3 127.6L429.5 122.0L430.7 124.0L431.7 131.2L432.7 130.0L433.7 140.4L434.7 138.4L435.7 148.7L436.7 150.0L437.7 152.7L438.7 164.7L439.7 165.5L440.7 177.3L441.7 178.7L442.7 187.0L443.7 198.1L444.7 200.7L445.7 211.0L446.7 211.9L447.8 203.5L448.8 207.0L449.9 198.0L450.9 201.4L452.0 193.1L453.0 194.0L454.0 188.8L455.0 177.0L456.0 174.7L457.0 162.3L458.0 159.9L459.0 150.0L460.1 137.7L461.3 134.0L462.5 118.6L463.6 112.0L464.7 109.6L465.7 100.0L466.8 101.9L467.8 91.7L468.9 92.8L469.9 83.4L471.0 81.0L472.0 88.3L473.0 89.3L474.0 98.7L475.0 99.2L476.0 110.1L477.0 112.0L478.1 111.0L479.1 116.8L480.2 113.3L481.3 120.1L482.4 115.0L483.4 120.9L484.5 120.0L485.7 122.5L486.9 131.8L488.0 131.0L489.2 141.4L490.4 144.0L491.5 147.5L492.5 158.3L493.6 157.3L494.7 168.2L495.8 168.0L496.8 179.7L497.9 182.0L498.9 177.7L499.9 181.5L500.9 172.8L501.9 177.1L502.9 169.3L503.9 172.0L504.9 165.6L505.9 169.0L506.9 164.0L508.0 158.5L509.0 161.8L510.1 152.9L511.1 154.9L512.2 147.5L513.2 150.2L514.3 144.0L515.3 137.3L516.3 139.2L517.3 129.0L518.3 131.2L519.3 121.3L520.3 120.0L521.3 119.7L522.3 109.8L523.3 112.0L524.3 102.6L525.3 104.7L526.3 99.0L527.5 101.6L528.7 111.8L529.8 110.2L531.0 121.2L532.2 123.0L533.3 123.2L534.4 130.9L535.5 129.1L536.7 138.4L537.8 134.7L538.9 143.3L540.0 144.0L541.0 143.1L542.0 149.8L543.0 145.9L544.0 150.0L545.0 158.9L546.0 158.4L547.0 169.8L548.0 168.6L549.0 180.3L550.0 183.0L551.0 188.0L552.0 199.2L553.0 200.8L554.0 213.7L555.0 215.2L556.0 225.0L557.0 229.7L558.0 225.8L559.0 233.8L560.0 233.0L561.0 227.6L562.0 229.7L563.0 220.9L564.0 223.6L565.0 215.3L566.0 215.0L567.0 214.0L568.0 204.2L569.0 206.4L570.0 195.7L571.0 195.0L572.0 192.3L573.0 181.6L574.0 182.1L575.0 172.4L576.0 172.3L577.0 162.0L578.0 163.3L579.0 151.9L580.0 150.0L581.0 146.8L582.0 135.9L583.0 137.4L584.0 126.0L585.0 126.6L586.0 118.0L587.0 112.5L588.0 114.7L589.0 107.0L590.0 108.5L591.0 101.1L592.0 103.3L593.0 98.0L594.0 99.6L595.0 110.1L596.0 107.5L597.0 117.7L598.0 116.5L599.0 124.0L600.1 132.8L601.2 134.1L602.3 146.5L603.3 147.5L604.4 160.6L605.5 162.3L606.6 171.0L607.7 177.0L608.7 174.5L609.8 184.5L610.8 181.4L611.9 191.4L612.9 189.1L614.0 195.0L615.1 196.2L616.2 188.6L617.3 190.9L618.3 184.2L619.4 186.5L620.5 179.7L621.6 180.0L622.8 178.2L624.0 169.4L625.1 169.4L626.3 161.3L627.5 159.0L628.6 157.7L629.6 148.0L630.7 148.7L631.8 139.8L632.9 141.5L633.9 131.4L635.0 130.0L636.0 132.5L637.0 124.8L638.0 129.9L639.0 123.5L640.0 127.1L641.0 124.0L642.0 125.7L643.0 135.8L644.0 135.3L645.0 146.3L646.0 145.9L647.0 153.0L648.1 160.8L649.1 160.7L650.2 171.9L651.2 170.8L652.3 182.2L653.3 181.4L654.4 189.0L655.4 191.2L656.4 185.6L657.4 190.7L658.4 185.3L659.4 189.9L660.4 185.0L661.4 189.0L662.4 183.6L663.4 186.0L664.5 183.7L665.7 172.2L666.9 172.7L668.0 165.0L669.1 159.6L670.2 161.4L671.4 152.0L672.5 152.0L673.5 158.2L674.6 155.5L675.6 164.7L676.6 162.1L677.7 171.9L678.7 172.0L679.7 179.1L680.7 195.8L681.7 201.2L682.7 216.1L683.7 224.0L684.9 225.5L686.2 236.4L687.4 235.3L688.6 243.0L689.6 240.1L690.6 230.3L691.6 231.4L692.6 221.8L693.6 219.0L694.6 208.5L695.6 191.1L696.6 182.8L697.6 164.3L698.6 155.0L699.8 152.9L701.1 142.4L702.3 141.0L703.3 147.8L704.3 144.7L705.3 153.8L706.3 150.3L707.3 157.0L708.3 169.5L709.3 171.8L710.3 190.5L711.3 190.2L712.3 204.0L713.2 202.0L714.1 185.2L715.1 187.0L716.0 175.0L716.8 163.2L717.7 172.8L718.5 154.3L719.3 164.1L720.2 145.6L721.0 150.0L721.9 152.5L722.9 132.6L723.8 140.9L724.7 130.0L725.6 129.0L726.5 152.2L727.5 140.7L728.4 157.0L729.2 163.9L730.1 152.0L730.9 167.9L731.7 155.3L732.6 172.9L733.4 165.0L734.2 162.6L735.1 184.0L735.9 175.8L736.7 197.8L737.6 190.2L738.4 204.0L739.2 209.8L740.1 191.9L740.9 202.7L741.7 185.4L742.6 202.0L743.4 190.0L744.2 182.4L745.0 194.5L745.7 177.5L746.5 195.5L747.3 175.8L748.1 192.5L748.9 177.9L749.7 190.3L750.4 173.4L751.2 186.6L752.0 180.0L752.8 179.6L753.7 198.4L754.5 188.2L755.3 209.3L756.2 201.5L757.0 214.0L757.8 219.1L758.5 203.4L759.2 217.0L760.0 198.7L760.8 213.0L761.5 194.7L762.2 204.5L763.0 190.5L763.8 200.9L764.5 192.0L765.2 183.7L766.0 201.8L766.8 187.7L767.5 203.8L768.2 191.3L769.0 205.3L769.8 192.1L770.5 208.1L771.2 196.2L772.0 204.0L772.8 214.0L773.5 199.7L774.2 217.1L775.0 205.3L775.8 224.1L776.5 213.5L777.2 231.2L778.0 224.0L778.8 214.0L779.5 229.4L780.2 215.9L781.0 230.1L781.8 212.1L782.5 229.2L783.2 211.6L784.0 219.0L784.8 229.6L785.5 212.6L786.2 230.7L787.0 218.9L787.8 235.8L788.5 222.9L789.2 238.5L790.0 232.0L790.8 223.9L791.6 234.3L792.4 219.6L793.2 234.0L794.0 224.0L794.8 220.1L795.6 238.1L796.5 226.6L797.3 244.6L798.1 234.2L799.0 253.2L799.8 240.6L800.6 254.0L801.5 256.2L802.3 239.6L803.1 249.9L804.0 240.0L804.8 231.0L805.6 246.0L806.4 232.5L807.2 245.7L808.0 239.0L808.8 229.8L809.5 248.3L810.2 231.9L811.0 245.4L811.8 228.0L812.5 244.8L813.2 227.4L814.0 237.0L814.8 246.4L815.7 237.1L816.5 257.5L817.3 241.7L818.2 262.3L819.0 259.0L819.8 246.5L820.6 259.0L821.4 243.4L822.2 254.8L823.0 245.0L823.8 240.3L824.6 253.7L825.4 241.3L826.2 254.6L827.0 249.0L827.8 243.0L828.6 262.8L829.4 251.0L830.2 271.4L831.0 265.0L831.8 260.1L832.5 275.1L833.2 262.6L834.0 274.0L834.8 278.0L835.7 264.9L836.5 275.7L837.3 257.8L838.2 272.4L839.0 264.0L839.8 259.3L840.6 279.9L841.4 268.1L842.2 287.3L843.0 282.0L843.8 275.4L844.6 291.2L845.4 279.8L846.2 299.0L847.0 291.0L847.8 281.4L848.6 292.7L849.4 275.7L850.2 287.8L851.0 276.0L851.8 266.5L852.5 282.0L853.2 267.4L854.0 274.0L854.8 283.5L855.6 272.3L856.4 290.6L857.2 280.4L858.0 292.0L858.8 303.7L859.5 285.6L860.2 303.1L861.0 299.0L861.8 289.5L862.6 302.9L863.4 286.2L864.2 300.3L865.0 290.0L865.8 279.0L866.7 292.7L867.5 278.2L868.3 290.5L869.2 275.3L870.0 280.0L870.8 290.3L871.7 277.9L872.5 298.0L873.3 284.7L874.2 304.9L875.0 302.0L875.8 293.0L876.6 306.8L877.3 291.1L878.1 309.4L878.9 292.4L879.7 305.0L880.4 290.0L881.2 304.7L882.0 297.0L882.8 292.8L883.7 312.7L884.5 301.0L885.3 318.6L886.2 306.5L887.0 317.0L887.8 321.0L888.6 304.0L889.4 316.2L890.2 300.4L891.0 305.0L891.8 311.3L892.7 298.6L893.5 313.0L894.3 299.0L895.2 313.0L896.0 305.0L896.8 302.2L897.5 319.9L898.2 307.6L899.0 327.3L899.8 312.6L900.5 331.1L901.2 316.9L902.0 330.0L902.8 334.0L903.6 318.8L904.4 332.4L905.2 311.2L906.0 318.0L906.8 334.7L907.6 326.2L908.4 347.6L909.2 337.2L910.0 354.0L910.8 359.0L911.7 339.6L912.5 350.8L913.3 331.0L914.2 345.0L915.0 334.0L915.8 323.7L916.6 339.3L917.4 322.9L918.2 338.1L919.0 324.8L919.8 339.9L920.6 325.0L921.4 337.3L922.2 321.1L923.0 330.0L923.8 338.1L924.6 326.2L925.5 342.5L926.3 330.4L927.1 348.3L928.0 332.5L928.8 347.9L929.6 344.0L930.5 339.6L931.4 355.2L932.2 341.9L933.1 358.5L934.0 352.0L934.8 345.5L935.6 363.5L936.4 349.7L937.2 366.6L938.0 362.0L938.8 351.1L939.6 364.6L940.5 350.4L941.3 361.9L942.1 345.1L943.0 356.4L943.8 343.0L944.6 347.0L945.4 354.9L946.2 339.0L947.1 350.9L947.9 336.4L948.7 351.4L949.5 331.2L950.4 349.1L951.2 328.3L952.0 337.0L952.8 346.6L953.7 334.0L954.5 354.1L955.3 344.1L956.2 360.4L957.0 357.0L957.8 352.9L958.7 370.6L959.5 356.3L960.3 371.9L961.2 360.7L962.0 369.0L962.8 379.8L963.6 361.7L964.3 381.4L965.1 365.6L965.9 381.7L966.7 367.7L967.4 386.2L968.2 367.9L969.0 379.0L969.8 389.5L970.6 378.7L971.4 396.7L972.2 382.9L973.0 395.0L973.8 403.3L974.7 393.3L975.5 407.6L976.3 393.1L977.2 413.5L978.0 407.0L978.8 399.2L979.5 408.7L980.2 392.8L981.0 407.5L981.8 389.2L982.5 399.1L983.2 384.2L984.0 389.0L984.8 394.4L985.7 377.5L986.5 390.4L987.3 374.7L988.2 390.4L989.0 379.0L989.8 374.3L990.6 390.4L991.4 374.5L992.2 391.7L993.0 378.1L993.8 395.1L994.6 382.0L995.4 399.8L996.2 382.9L997.0 394.0L997.8 403.0L998.6 389.7L999.3 406.3L1000.1 390.5L1000.9 405.7L1001.7 392.4L1002.4 410.2L1003.2 396.6L1004.0 404.0L1004.8 415.0L1005.7 402.8L1006.5 425.2L1007.3 411.4L1008.2 432.4L1009.0 429.0L1009.8 425.6L1010.7 443.3L1011.5 435.8L1012.3 454.5L1013.2 440.5L1014.0 454.0L1014.8 462.6L1015.5 450.3L1016.2 467.5L1017.0 453.1L1017.8 469.9L1018.5 459.7L1019.2 473.7L1020.0 469.0L1020.8 455.5L1021.6 468.5L1022.5 450.8L1023.3 463.6L1024.1 441.6L1024.9 456.4L1025.8 433.5L1026.6 439.0L1027.4 453.4L1028.3 440.2L1029.2 460.9L1030.0 459.0L1030.8 448.4L1031.7 463.9L1032.5 446.4L1033.3 459.3L1034.2 441.2L1035.0 445.0L1035.8 449.5L1036.6 434.2L1037.4 450.2L1038.2 432.0L1039.0 439.0L1039.9 458.2L1040.7 449.5L1041.6 469.0L1042.4 479.2L1043.2 460.9L1044.0 477.9L1044.9 466.7L1045.7 482.3L1046.5 474.0L1047.3 473.1L1048.2 497.5L1049.0 499.0L1049.8 495.6L1050.7 510.3L1051.5 499.5L1052.3 515.0L1053.2 503.9L1054.0 514.0L1054.8 520.3L1055.5 509.3L1056.2 522.3L1057.0 511.5L1057.8 523.7L1058.5 512.5L1059.2 523.0L1060.0 519.6L1060.8 516.6L1061.6 524.4L1062.3 517.4L1063.1 527.7L1063.9 517.7L1064.7 528.3L1065.4 518.8L1066.2 529.5L1067.0 524.5L1067.8 521.2L1068.7 533.4L1069.5 527.4L1070.3 539.5L1071.2 531.6L1072.0 539.5L1072.8 546.9L1073.6 539.1L1074.4 549.7L1075.2 543.8L1076.0 552.6L1076.8 547.2L1077.6 557.8L1078.4 549.4L1079.2 561.6L1080.0 559.0L1080.8 557.0L1081.7 570.7L1082.5 564.8L1083.3 577.9L1084.2 570.4L1085.0 579.0L1085.8 586.6L1086.5 580.4L1087.2 592.9L1088.0 587.6L1088.8 598.7L1089.5 592.2L1090.2 604.6L1091.0 604.0L1091.8 597.5L1092.7 603.1L1093.5 593.2L1094.3 599.9L1095.2 586.4L1096.0 590.0L1096.8 595.8L1097.7 587.6L1098.5 599.0L1099.3 591.0L1100.2 601.4L1101.0 599.0L1101.8 598.8L1102.6 610.8L1103.4 603.9L1104.2 616.4L1105.0 615.0L1105.8 610.7L1106.7 621.6L1107.5 612.5L1108.3 623.0L1109.2 614.4L1110.0 619.0L1110.8 626.1L1111.6 616.6L1112.3 628.3L1113.1 620.0L1113.9 630.9L1114.7 622.9L1115.4 633.9L1116.2 626.1L1117.0 631.5L1117.8 638.3L1118.5 631.6L1119.3 644.1L1120.0 635.4L1120.8 647.1L1121.6 639.1L1122.3 652.0L1123.1 644.1L1123.8 656.5L1124.6 654.0L1125.4 647.7L1126.1 657.1L1126.9 644.5L1127.7 654.4L1128.5 640.4L1129.2 652.9L1130.0 645.0L1130.8 637.4L1131.5 653.2L1132.3 639.4L1133.1 651.1L1133.8 637.1L1134.6 644.0L1135.5 650.8L1136.4 633.7L1137.2 647.4L1138.1 628.9L1139.0 635.0L1139.8 642.9L1140.6 626.1L1141.4 640.4L1142.2 621.8L1143.0 629.0L1143.8 638.9L1144.7 622.8L1145.5 642.9L1146.3 627.2L1147.2 645.0L1148.0 640.0L1148.8 634.1L1149.6 647.5L1150.4 633.9L1151.2 647.4L1152.0 641.0L1152.8 636.7L1153.6 653.7L1154.3 640.4L1155.1 656.7L1155.9 642.6L1156.7 660.1L1157.4 645.7L1158.2 666.2L1159.0 659.0L1159.8 648.5L1160.7 665.2L1161.5 648.9L1162.3 662.8L1163.2 644.9L1164.0 650.0L1164.8 658.5L1165.7 645.7L1166.5 663.2L1167.3 650.3L1168.2 671.2L1169.0 664.0L1169.8 652.7L1170.7 668.9L1171.5 647.7L1172.3 663.3L1173.2 643.5L1174.0 650.0L1174.8 660.1L1175.7 644.6L1176.5 658.1L1177.3 646.9L1178.2 659.5L1179.0 654.0L1179.8 651.3L1180.7 673.4L1181.5 659.7L1182.3 682.0L1183.2 669.7L1184.0 684.0L1184.8 689.1L1185.7 673.5L1186.5 685.4L1187.3 666.4L1188.2 682.0L1189.0 670.0L1189.8 659.9L1190.7 677.3L1191.5 663.8L1192.3 677.6L1193.2 659.8L1194.0 669.0L1194.8 678.5L1195.7 663.7L1196.5 682.0L1197.3 668.3L1198.2 685.0L1199.0 680.0L1199.8 674.2L1200.7 689.7L1201.5 674.6L1202.3 695.1L1203.2 680.6L1204.0 689.0L1204.8 693.7L1205.6 673.2L1206.4 687.6L1207.2 667.4L1208.0 672.0L1208.8 682.5L1209.6 672.8L1210.4 691.0L1211.2 677.3L1212.0 690.0L1212.8 697.0L1213.6 679.2L1214.3 694.5L1215.1 678.7L1215.9 691.4L1216.7 676.7L1217.4 687.1L1218.2 670.6L1219.0 679.0L1219.8 683.8L1220.5 665.2L1221.2 678.5L1222.0 662.1L1222.8 674.6L1223.5 655.0L1224.2 670.4L1225.0 660.0L1225.8 656.5L1226.7 673.1L1227.5 660.0L1228.3 677.2L1229.2 662.8L1230.0 675.0L1230.8 683.5L1231.7 670.7L1232.5 684.0L1233.3 672.8L1234.2 687.7L1235.0 680.0L1235.8 672.7L1236.5 694.4L1237.2 681.9L1238.0 696.6L1238.8 686.2L1239.5 704.0L1240.2 688.2L1241.0 700.0L1241.8 709.5L1242.7 698.6L1243.5 720.7L1244.3 704.8L1245.2 723.9L1246.0 722.0L1246.8 710.8L1247.5 722.4L1248.2 705.0L1249.0 720.4L1249.8 702.5L1250.5 713.6L1251.2 694.2L1252.0 700.0L1252.8 706.2L1253.5 685.8L1254.2 698.8L1255.0 679.5L1255.8 694.7L1256.5 675.9L1257.2 725.6L1258.0 677.0L1258.8 688.4L1259.7 673.1L1260.5 692.7L1261.3 678.8L1262.2 697.3L1263.0 690.0L1263.8 708.0L1264.6 682.1L1265.4 699.2L1266.2 684.3L1267.0 694.0L1267.8 700.1L1268.5 684.0L1269.2 711.9L1270.0 693.0L1270.8 708.9L1271.5 699.3L1272.2 721.6L1273.0 709.4L1273.8 669.8L1274.5 741.1L1275.2 703.3L1276.0 745.0L1276.8 733.9L1277.5 744.5L1278.2 673.0L1279.0 700.8L1279.8 714.9L1280.5 702.6L1281.2 720.2L1282.0 709.0L1282.8 695.3L1283.5 710.1L1284.2 688.7L1285.0 667.5L1285.8 693.4L1286.5 685.8L1287.2 682.8L1288.0 680.0L1288.8 657.2L1289.6 661.8L1290.4 686.8L1291.2 668.2L1292.0 656.0L1292.8 648.1L1293.6 663.9L1294.4 704.8L1295.2 649.2L1296.0 667.0L1296.8 650.7L1297.6 670.9L1298.4 649.0L1299.2 650.6L1300.0 662.0L1300.8 657.8L1301.5 650.0L1302.2 683.4L1303.0 701.0L1303.8 671.9L1304.5 691.0L1305.2 701.3L1306.0 689.0L1306.8 677.6L1307.5 684.2L1308.2 708.2L1309.0 652.3L1309.8 694.5L1310.5 644.1L1311.2 662.9L1312.0 717.0L1312.8 724.5L1313.5 702.1L1314.2 715.4L1315.0 689.1L1315.8 647.8L1316.5 704.7L1317.2 680.8L1318.0 685.0L1318.8 696.7L1319.6 657.4L1320.4 643.9L1321.2 646.4L1322.0 690.0L1322.8 643.9L1323.5 681.3L1324.2 694.7L1325.0 695.9L1325.8 696.1L1326.5 672.6L1327.2 662.4L1328.0 682.0L1328.8 695.2L1329.5 684.0L1330.2 653.8L1331.0 656.8L1331.8 669.4L1332.5 634.6L1333.2 644.4L1334.0 650.0L1334.8 691.6L1335.5 659.9L1336.2 650.3L1337.0 644.4L1337.8 665.8L1338.5 694.4L1339.2 699.7L1340.0 622.0L1340.8 694.1L1341.6 621.5L1342.4 652.7L1343.2 647.1L1344.0 640.0L1345.0 701.3L1346.0 711.0L1347.0 687.1L1348.0 640.0L1349.0 654.3L1350.0 606.0L1350.8 603.9L1351.6 623.8L1352.4 613.7L1353.2 633.6L1354.0 630.0L1354.8 636.3L1355.5 623.1L1356.2 665.6L1357.0 642.8L1357.8 628.9L1358.5 688.3L1359.2 646.4L1360.0 640.0L1360.8 643.5L1361.7 634.1L1362.5 651.7L1363.3 657.1L1364.2 638.6L1365.0 650.0L1365.8 643.3L1366.7 656.1L1367.5 639.1L1368.3 653.1L1369.2 632.1L1370.0 642.0L1371.0 685.0L1372.0 657.6L1373.0 717.0L1373.8 732.6L1374.6 721.8L1375.4 747.0L1376.2 703.7L1377.0 749.0L1377.8 751.7L1378.6 748.2L1379.4 748.6L1380.2 765.0L1381.0 756.3L1381.8 766.0L1382.6 769.8L1383.4 779.7L1384.2 732.5L1385.0 741.0L1385.8 754.0L1386.5 741.3L1387.2 759.3L1388.0 726.3L1388.8 779.5L1389.5 727.6L1390.2 757.8L1391.0 769.0L1391.8 766.2L1392.5 791.9L1393.2 782.1L1394.0 806.5L1394.8 735.9L1395.5 762.8L1396.2 737.6L1397.0 823.0L1397.8 740.4L1398.5 810.8L1399.2 771.1L1400.0 821.0L1400.8 818.2L1401.7 788.7L1402.5 758.5L1403.3 789.1L1404.2 789.8L1405.0 759.0L1405.8 754.5L1406.6 747.9L1407.3 787.5L1408.1 786.1L1408.9 767.3L1409.7 755.3L1410.4 797.9L1411.2 747.4L1412.0 794.0L1412.8 787.1L1413.6 804.4L1414.4 748.2L1415.2 725.5L1416.0 791.7L1416.8 814.2L1417.6 794.5L1418.4 814.4L1419.2 801.3L1420.0 811.0L1421.0 783.1L1422.0 739.0L1422.8 730.7L1423.6 753.6L1424.4 740.0L1425.2 760.4L1426.0 748.8L1426.8 745.7L1427.6 752.7L1428.4 738.3L1429.2 776.1L1430.0 772.0L1430.8 718.9L1431.5 734.7L1432.3 725.3L1433.1 742.7L1433.8 737.1L1434.6 752.1L1435.4 752.2L1436.2 742.8L1436.9 717.9L1437.7 724.9L1438.5 740.6L1439.2 744.9L1440.0 707.0L1440.8 731.2L1441.6 724.2L1442.3 711.7L1443.1 768.3L1443.9 755.6L1444.7 714.3L1445.4 748.6L1446.2 733.0L1447.0 749.0L1447.8 753.4L1448.7 723.4L1449.5 722.4L1450.3 729.9L1451.2 750.0L1452.0 717.0L1452.8 733.9L1453.6 719.0L1454.4 744.7L1455.2 730.6L1456.0 755.9L1456.8 743.9L1457.6 763.5L1458.4 752.8L1459.2 768.4L1460.0 774.0L1460.8 780.1L1461.6 757.1L1462.3 774.3L1463.1 739.3L1463.9 751.9L1464.7 745.3L1465.4 731.7L1466.2 763.0L1467.0 749.0L1467.8 739.3L1468.5 731.2L1469.3 747.3L1470.1 725.2L1470.8 736.4L1471.6 712.7L1472.4 727.4L1473.2 767.8L1473.9 717.0L1474.7 697.8L1475.5 713.7L1476.2 686.7L1477.0 694.5L1477.8 709.6L1478.7 697.3L1479.5 750.3L1480.3 771.2L1481.2 732.7L1482.0 729.0L1482.8 737.8L1483.7 749.0L1484.5 683.1L1485.3 692.2L1486.2 753.2L1487.0 660.0L1487.8 661.4L1488.7 690.7L1489.5 735.7L1490.3 688.3L1491.2 716.4L1492.0 719.0L1492.8 721.6L1493.7 756.8L1494.5 748.9L1495.3 732.5L1496.2 792.9L1497.0 796.5L1497.8 725.0L1498.7 770.8L1499.5 775.6L1500.3 771.7L1501.2 762.5L1502.0 749.0L1502.8 756.1L1503.6 731.0L1504.3 728.6L1505.1 742.4L1505.9 746.6L1506.7 752.7L1507.4 712.1L1508.2 729.4L1509.0 717.0L1509.8 719.2L1510.6 709.8L1511.4 719.5L1512.2 728.0L1513.0 706.0L1513.8 707.7L1514.6 725.3L1515.4 708.5L1516.2 724.6L1517.0 717.0L1517.8 769.2L1518.6 743.7L1519.3 732.1L1520.1 768.1L1520.9 750.8L1521.7 748.5L1522.4 706.4L1523.2 801.1L1524.0 799.0L1524.8 768.5L1525.6 778.8L1526.4 792.8L1527.2 772.2L1528.0 730.1L1528.8 755.2L1529.6 766.5L1530.4 760.0L1531.2 712.4L1532.0 739.0L1532.8 712.3L1533.6 733.4L1534.3 711.1L1535.1 720.1L1535.9 701.0L1536.7 758.1L1537.4 713.6L1538.2 716.0L1539.0 677.0L1539.8 696.1L1540.7 685.9L1541.5 745.7L1542.3 712.2L1543.2 727.6L1544.0 729.0L1544.8 753.3L1545.6 728.5L1546.4 743.6L1547.2 760.8L1548.0 759.7L1548.8 757.8L1549.6 696.8L1550.4 749.0L1551.2 770.3L1552.0 764.0L1552.8 703.3L1553.7 780.3L1554.5 807.3L1555.3 802.5L1556.2 740.5L1557.0 836.0L1557.8 730.8L1558.7 825.3L1559.5 686.8L1560.3 744.0L1561.2 730.3L1562.0 779.0L1562.8 723.4L1563.5 719.1L1564.2 686.1L1565.0 734.0L1565.8 698.9L1566.7 737.2L1567.5 713.3L1568.3 680.2L1569.2 691.5L1570.0 669.5L1570.8 704.6L1571.7 736.9L1572.5 656.0L1573.3 736.1L1574.2 669.1L1575.0 659.5L1575.8 652.9L1576.6 671.0L1577.3 758.7L1578.1 656.8L1578.9 688.0L1579.7 701.2L1580.4 716.6L1581.2 711.1L1582.0 677.0L1582.8 690.7L1583.7 679.7L1584.5 703.5L1585.3 744.2L1586.2 686.6L1587.0 714.0L1587.8 704.0L1588.7 690.9L1589.5 726.4L1590.3 708.7L1591.2 756.4L1592.0 719.0L1592.8 768.1L1593.7 721.3L1594.5 741.7L1595.3 726.6L1596.2 697.0L1597.0 747.0L1597.8 767.4L1598.7 759.7L1599.5 792.6L1600.3 784.0L1601.2 758.3L1602.0 816.0L1602.8 750.4L1603.7 808.3L1604.5 786.7L1605.3 797.0L1606.2 769.1L1607.0 771.0L1607.8 753.1L1608.7 763.3L1609.5 755.4L1610.3 743.6L1611.2 738.8L1612.0 724.0L1612.8 720.4L1613.7 747.5L1614.5 753.0L1615.3 742.2L1616.2 797.2L1617.0 764.0L1617.8 773.1L1618.6 792.5L1619.4 765.7L1620.2 781.5L1621.0 739.9L1621.8 757.1L1622.6 753.4L1623.4 747.3L1624.2 753.1L1625.0 734.0L1625.8 785.4L1626.7 741.1L1627.5 768.1L1628.3 745.6L1629.2 734.0L1630.0 771.0L1630.8 770.8L1631.7 787.8L1632.5 812.1L1633.3 771.0L1634.2 748.8L1635.0 834.0L1636.0 844.2L1637.0 866.0L1637.8 833.1L1638.5 781.3L1639.2 751.7L1640.0 709.0L1641.0 688.1L1642.0 672.0L1642.8 667.3L1643.7 652.6L1644.5 650.3L1645.3 634.8L1646.2 633.9L1647.0 622.0L1647.8 605.5L1648.5 598.5L1649.2 580.2L1650.0 570.0L1650.8 589.4L1651.5 598.8L1652.2 621.0L1653.0 635.0L1653.8 638.9L1654.5 653.0L1655.2 652.8L1656.0 664.0L1656.9 678.3L1657.8 683.8L1658.6 700.1L1659.5 709.0L1660.3 714.8L1661.2 729.6L1662.0 731.7L1662.8 744.9L1663.7 748.5L1664.5 759.0L1665.3 764.7L1666.2 760.0L1667.0 768.4L1667.8 764.0L1668.7 772.0L1669.5 771.0L1670.2 763.6L1671.0 766.2L1671.8 757.0L1672.5 759.2L1673.2 750.3L1674.0 749.0L1674.8 746.8L1675.6 734.8L1676.4 737.4L1677.2 724.9L1678.0 725.3L1678.8 714.5L1679.6 715.8L1680.4 704.3L1681.2 704.9L1682.0 697.0L1682.8 703.5L1683.7 720.2L1684.5 725.0L1685.3 741.7L1686.2 745.4L1687.0 759.0L1687.8 758.0L1688.7 747.8L1689.5 749.0L1690.3 739.1L1691.2 741.9L1692.0 734.0L1692.8 731.6L1693.7 736.7L1694.5 730.8L1695.3 737.2L1696.2 730.9L1697.0 734.0L1697.8 701.7L1698.7 662.3L1699.5 630.0" stroke="#02a043" stroke-width="6.0"/><path d="M387.0 70.0L1703.0 897.8" stroke="#fcc52a" stroke-width="5.0"/></g><rect x="1074" y="41" width="671.5" height="216" rx="4" ry="4" fill="#fff" stroke="#d9d9d9" stroke-width="3.5"/><line x1="1083" y1="67" x2="1170.5" y2="67" stroke="#f0512e" stroke-width="7"/><line x1="1083" y1="120.5" x2="1170.5" y2="120.5" stroke="#438ff4" stroke-width="7"/><line x1="1083" y1="170" x2="1170.5" y2="170" stroke="#2aa55a" stroke-width="7"/><line x1="1083" y1="223" x2="1170.5" y2="223" stroke="#fcc93a" stroke-width="7"/><text transform="matrix(1.22727,0,0,1.09615,50.00,-84.33)" x="100" y="150" font-family='"Liberation Serif", "DejaVu Serif", serif' font-size="82" fill="#111" stroke="#fff" stroke-width="1.3">1</text><text transform="matrix(1.04348,0,0,1.03704,27.52,86.44)" x="100" y="150" font-family='"Liberation Serif", "DejaVu Serif", serif' font-size="82" fill="#111" stroke="#fff" stroke-width="1.3">0. 8</text><text transform="matrix(1.01724,0,0,1.01852,35.22,269.22)" x="100" y="150" font-family='"Liberation Serif", "DejaVu Serif", serif' font-size="82" fill="#111" stroke="#fff" stroke-width="1.3">0. 6</text><text transform="matrix(1.02991,0,0,1.03704,33.92,423.44)" x="100" y="150" font-family='"Liberation Serif", "DejaVu Serif", serif' font-size="82" fill="#111" stroke="#fff" stroke-width="1.3">0. 4</text><text transform="matrix(1.05263,0,0,1.00926,31.58,615.11)" x="100" y="150" font-family='"Liberation Serif", "DejaVu Serif", serif' font-size="82" fill="#111" stroke="#fff" stroke-width="1.3">0. 2</text><text transform="matrix(1.02941,0,0,1.05556,75.97,765.67)" x="100" y="150" font-family='"Liberation Serif", "DejaVu Serif", serif' font-size="82" fill="#111" stroke="#fff" stroke-width="1.3">0</text><text transform="matrix(1.05588,0,0,0.95741,264.84,936.89)" x="100" y="150" font-family='"Liberation Serif", "DejaVu Serif", serif' font-size="82" fill="#111" stroke="#fff" stroke-width="1.3">0</text><text transform="matrix(1.04474,0,0,1.02037,510.90,928.64)" x="100" y="150" font-family='"Liberation Serif", "DejaVu Serif", serif' font-size="82" fill="#111" stroke="#fff" stroke-width="1.3">500</text><text transform="matrix(1.04867,0,0,1.03704,761.95,926.64)" x="100" y="150" font-family='"Liberation Serif", "DejaVu Serif", serif' font-size="82" fill="#111" stroke="#fff" stroke-width="1.3">1000</text><text transform="matrix(1.03733,0,0,1.01852,1038.29,928.22)" x="100" y="150" font-family='"Liberation Serif", "DejaVu Serif", serif' font-size="82" fill="#111" stroke="#fff" stroke-width="1.3">1500</text><text transform="matrix(1.03718,0,0,1.01852,1330.63,928.22)" x="100" y="150" font-family='"Liberation Serif", "DejaVu Serif", serif' font-size="82" fill="#111" stroke="#fff" stroke-width="1.3">2000</text><text transform="matrix(1.07296,0,0,0.98649,813.41,1027.26)" x="100" y="150" font-family='"Liberation Serif", "DejaVu Serif", serif' font-size="80" fill="#111">Sample</text><text transform="matrix(1.02489,0,0,1.00000,1083.96,-68.00)" x="100" y="150" font-family='"Liberation Serif", "DejaVu Serif", serif' font-size="41" fill="#1e1e1e" stroke="#1e1e1e" stroke-width="0.5">LSTM(Screening Features)</text><text transform="matrix(1.02019,0,0,1.00000,1084.44,-18.50)" x="100" y="150" font-family='"Liberation Serif", "DejaVu Serif", serif' font-size="41" fill="#1e1e1e" stroke="#1e1e1e" stroke-width="0.5">LSTM(Random Features)</text><text transform="matrix(1.03735,0,0,1.00000,1083.73,32.00)" x="100" y="150" font-family='"Liberation Serif", "DejaVu Serif", serif' font-size="41" fill="#1e1e1e" stroke="#1e1e1e" stroke-width="0.5">CNN</text><text transform="matrix(1.01724,0,0,1.00000,1084.74,84.00)" x="100" y="150" font-family='"Liberation Serif", "DejaVu Serif", serif' font-size="41" fill="#1e1e1e" stroke="#1e1e1e" stroke-width="0.5">Real Value</text><text transform="matrix(0,-0.94969,1.03571,0,-76.39,648.87)" x="100" y="150" font-family='"Liberation Serif", "DejaVu Serif", serif' font-size="83" fill="#111">RUL</text></g><rect x="320.7" y="15.8" width="3.10" height="994.20" fill="#e2e2e2"/><rect x="329" y="24" width="3.20" height="980.00" fill="#e4e4e4"/><rect x="1761" y="24" width="3.00" height="980.00" fill="#ececec"/><rect x="1770" y="15.8" width="3.00" height="996.80" fill="#e2e2e2"/><rect x="320.7" y="15.8" width="1452.30" height="3.00" fill="#dcdcdc"/><rect x="329" y="24" width="1435.00" height="3.00" fill="#d6d6d6"/><rect x="329" y="1001" width="1435.00" height="3.00" fill="#f5f5f5"/><rect x="329" y="1004" width="1435.00" height="3.00" fill="#bbbbbb"/><rect x="323.8" y="1010" width="1446.20" height="2.60" fill="#b0b0b0"/><rect x="323.8" y="1012.6" width="1446.20" height="2.80" fill="#f4f4f4"/><rect x="323.8" y="18.8" width="5.20" height="991.20" fill="#717171"/><rect x="1764" y="18.8" width="6.00" height="991.20" fill="#6a6a6a"/><rect x="323.8" y="18.8" width="1446.20" height="5.10" fill="#858585"/><rect x="323.8" y="1007" width="1446.20" height="3.00" fill="#6e6e6e"/><rect x="312" y="58.2" width="11.80" height="6.60" fill="#dcdcdc"/><rect x="313" y="59.8" width="10.80" height="3.40" fill="#4d4d4d"/><rect x="312" y="225.89999999999998" width="11.80" height="6.60" fill="#dcdcdc"/><rect x="313" y="227.5" width="10.80" height="3.40" fill="#4d4d4d"/><rect x="312" y="394.7" width="11.80" height="6.60" fill="#dcdcdc"/><rect x="313" y="396.3" width="10.80" height="3.40" fill="#4d4d4d"/><rect x="312" y="562.7" width="11.80" height="6.60" fill="#dcdcdc"/><rect x="313" y="564.3" width="10.80" height="3.40" fill="#4d4d4d"/><rect x="312" y="730.7" width="11.80" height="6.60" fill="#dcdcdc"/><rect x="313" y="732.3" width="10.80" height="3.40" fill="#4d4d4d"/><rect x="312" y="898.7" width="11.80" height="6.60" fill="#dcdcdc"/><rect x="313" y="900.3" width="10.80" height="3.40" fill="#4d4d4d"/><rect x="387.6" y="1012.6" width="6.80" height="8.40" fill="#dcdcdc"/><rect x="389.2" y="1010" width="3.60" height="10.00" fill="#4d4d4d"/><rect x="668.1" y="1012.6" width="6.80" height="8.40" fill="#dcdcdc"/><rect x="669.7" y="1010" width="3.60" height="10.00" fill="#4d4d4d"/><rect x="947.6" y="1012.6" width="6.80" height="8.40" fill="#dcdcdc"/><rect x="949.2" y="1010" width="3.60" height="10.00" fill="#4d4d4d"/><rect x="1223.3" y="1012.6" width="6.80" height="8.40" fill="#dcdcdc"/><rect x="1224.9" y="1010" width="3.60" height="10.00" fill="#4d4d4d"/><rect x="1501.6" y="1012.6" width="6.80" height="8.40" fill="#dcdcdc"/><rect x="1503.2" y="1010" width="3.60" height="10.00" fill="#4d4d4d"/></svg>
</body></html>
